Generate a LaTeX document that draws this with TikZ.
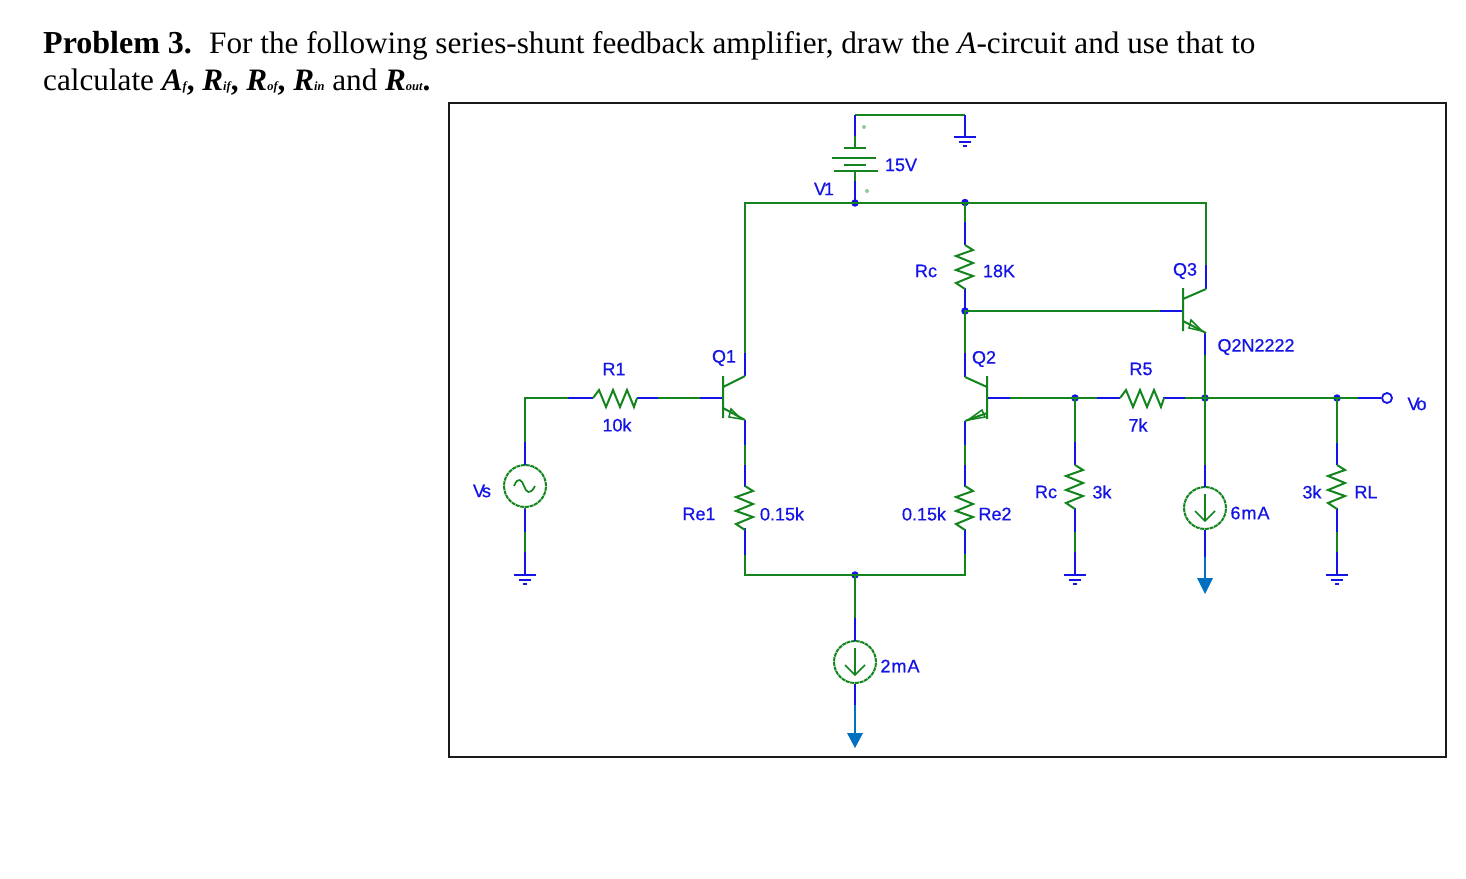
\documentclass[tikz,border=0pt]{standalone}
\usepackage{fontspec}
\setmainfont{Liberation Serif}
\newfontfamily\lblfont[AutoFakeBold=0.6]{Liberation Sans}
\definecolor{wg}{HTML}{14851E}
\definecolor{wb}{HTML}{1414E6}
\definecolor{arr}{HTML}{0070C0}
\definecolor{frame}{HTML}{1A1A1A}
\tikzset{
  wire/.style={draw=wg,line width=2.3pt},
  pin/.style={draw=wb,line width=2.3pt},
  outpin/.style={draw=arr,line width=2.3pt},
  part/.style={draw=wg,line width=2pt,line join=miter},
  srcring/.style={circle,draw=wg,line width=2pt,dash pattern=on 4pt off 0.7pt,minimum size=42pt,inner sep=0pt},
  lbl/.style={text=wb,font=\lblfont\bfseries\fontsize{18}{20}\selectfont,inner sep=0pt,anchor=center},
  junction/.style={circle,fill=wb,inner sep=0pt,minimum size=7.5pt},
  headtxt/.style={anchor=base west,inner sep=0pt,text=black},
  outterm/.style={circle,draw=wb,fill=white,line width=1.8pt,inner sep=0pt,minimum size=10pt},
  sign/.style={circle,fill=wg!45,inner sep=0pt,minimum size=4pt},
  flow/.style={fill=arr,draw=none}
}
% vertical resistor at x from y
\newcommand{\vres}[2]{\draw[part] (#1,#2) -- ++(8,5) -- ++(-17,6) -- ++(17,7) -- ++(-17,7) -- ++(17,6) -- ++(-17,7) -- ++(9,6);}
% horizontal resistor
\newcommand{\hres}[2]{\draw[part] (#1,#2) -- ++(6,-8) -- ++(7,17) -- ++(7,-17) -- ++(7,17) -- ++(7,-17) -- ++(7,17) -- ++(3,-9);}
% ground
\newcommand{\gnd}[2]{\draw[pin,line width=2pt] (#1-11,#2) -- (#1+11,#2) (#1-6,#2+4.5) -- (#1+6,#2+4.5) (#1-2,#2+8.5) -- (#1+2,#2+8.5);}
\newcommand{\hd}{\fontsize{31.2}{36}\selectfont}
\newcommand{\smsub}[1]{{\fontsize{12.5}{14}\selectfont\itshape #1}}
\begin{document}
\begin{tikzpicture}[x=1pt,y=-1pt]
\useasboundingbox (0,0) rectangle (1466,878);
\fill[white] (0,0) rectangle (1466,878);
% heading
\node[headtxt] (h1) at (43,53) {\fontsize{32}{36}\selectfont\textbf{Problem 3.}};
\node[headtxt] (h2) at (209,53) {\hd For the following series-shunt feedback amplifier, draw the \textit{A}-circuit and use that to};
\node[headtxt] (h3) at (43,90) {\hd calculate \textbf{\textit{A}\smsub{f}, \textit{R}\smsub{if}, \textit{R}\smsub{of}, \textit{R}\smsub{in}} and \textbf{\textit{R}\smsub{out}.}};
% frame
\node[draw=frame,line width=2pt,minimum width=996.5pt,minimum height=653.5pt,inner sep=0pt,anchor=north west] (fr) at (448.2,102.2) {};

% named points
\coordinate (battop) at (855,148);
\coordinate (batbot) at (855,171);
\coordinate (battopc) at (855,115);
\coordinate (gndtopc) at (965,115);
\coordinate (gndtop) at (965,137);
\node[junction] (v1j) at (855,203) {};
\node[junction] (rcj) at (965,202.5) {};
\coordinate (railL) at (745,203);
\coordinate (railR) at (1206,203);
\coordinate (rct) at (965,245);
\coordinate (rcb) at (965,290);
\node[junction] (q2cj) at (965,311) {};
\coordinate (q3b) at (1183,311);
\coordinate (q3c) at (1206,289);
\coordinate (q3e) at (1206,333);
\coordinate (q1c) at (745,376);
\coordinate (q1e) at (745,420);
\coordinate (q1b) at (723,398);
\coordinate (r1l) at (593,398);
\coordinate (r1r) at (637,398);
\coordinate (vsc) at (525,398);
\node[srcring] (vs) at (525,486) {};
\coordinate (vsg) at (525,575);
\coordinate (re1t) at (745,485);
\coordinate (re1b) at (745,530);
\coordinate (botL) at (745,575);
\coordinate (botR) at (965,575);
\node[junction] (botj) at (855,575) {};
\node[srcring] (i2) at (855,662) {};
\coordinate (i2tip) at (855,733);
\coordinate (q2c) at (965,377);
\coordinate (q2e) at (965,421);
\coordinate (q2b) at (987,398);
\coordinate (re2t) at (965,485);
\coordinate (re2b) at (965,530);
\node[junction] (rc3j) at (1075,398) {};
\coordinate (r5l) at (1120,398);
\coordinate (r5r) at (1164,398);
\node[junction] (outj) at (1205,398) {};
\coordinate (rc3t) at (1075,465);
\coordinate (rc3b) at (1075,510);
\coordinate (rc3g) at (1075,575);
\node[srcring] (i6) at (1205,508) {};
\coordinate (i6tip) at (1205,578);
\node[junction] (rlj) at (1337,398) {};
\coordinate (rlt) at (1337,465);
\coordinate (rlb) at (1337,510);
\coordinate (rlg) at (1337,575);

% green wires
\draw[wire] (battopc) -- (battop);
\draw[wire,line join=miter] (battopc) -- (gndtopc);
\draw[wire] (batbot) -- (v1j.center);
\draw[wire,line cap=rect] (railL) -- (railR);
\draw[wire] (rcj.center) -- (rct);
\draw[wire] (rcb) -- (q2cj.center) -- (q2c);
\draw[wire] (q2cj.center) -- (q3b);
\draw[wire] (railR) -- (q3c);
\draw[wire] (1205,333) -- (outj.center) -- (i6.north);
\draw[wire] (railL) -- (q1c);
\draw[wire] (q1e) -- (re1t);
\draw[wire,line join=miter] (vs.north) -- (vsc) -- (r1l);
\draw[wire] (r1r) -- (q1b);
\draw[wire] (vs.south) -- (vsg);
\draw[wire,line cap=rect,line join=miter] (re1b) -- (botL) -- (botR) -- (re2b);
\draw[wire] (botj.center) -- (i2.north);
\draw[wire] (q2e) -- (re2t);
\draw[wire] (q2b) -- (r5l);
\draw[wire] (r5r) -- (outj.center) -- (rlj.center) -- (1381,398);
\draw[wire] (rc3j.center) -- (rc3t);
\draw[wire] (rc3b) -- (rc3g);
\draw[wire] (rlj.center) -- (rlt);
\draw[wire] (rlb) -- (rlg);

% blue pin sections
\draw[pin] (855,115) -- (855,136) (855,181) -- (855,202);
\draw[pin] (965,115) -- (965,137) (965,222) -- (965,245) (965,288) -- (965,310);
\draw[pin] (1160,311) -- (1183,311) (1206,265) -- (1206,289) (1205,333) -- (1205,355);
\draw[pin] (965,353) -- (965,377) (965,421) -- (965,445) (965,465) -- (965,487) (965,529) -- (965,554);
\draw[pin] (745,353) -- (745,376) (745,420) -- (745,445) (745,465) -- (745,487) (745,528) -- (745,555);
\draw[pin] (568,398) -- (593,398) (637,398) -- (658,398) (700,398) -- (723,398);
\draw[pin] (525,442) -- (525,465) (525,509) -- (525,532) (525,552) -- (525,575);
\draw[pin] (855,618) -- (855,641);
\draw[pin] (855,684) -- (855,705);
\draw[pin] (988,398) -- (1010,398) (1097,398) -- (1120,398) (1163,398) -- (1185,398);
\draw[pin] (1075,442) -- (1075,465) (1075,508) -- (1075,532) (1075,552) -- (1075,575);
\draw[pin] (1205,465) -- (1205,487);
\draw[pin] (1205,530) -- (1205,557);
\draw[pin] (1337,443) -- (1337,465) (1337,508) -- (1337,532) (1337,552) -- (1337,575);
\draw[pin] (1358,398) -- (1381,398);
\draw[outpin] (855,705) -- (i2tip);
\draw[outpin] (1205,557) -- (i6tip);
\fill[flow] (847,733) -- (863,733) -- (855,748) -- cycle;
\fill[flow] (1197,578) -- (1213,578) -- (1205,594) -- cycle;

% battery
\draw[part] (844,148) -- (866,148) (832,158) -- (876,158) (844,164.5) -- (866,164.5) (834,171) -- (878,171);
\node[sign] (bm) at (864,127) {};
\node[sign] (bp) at (867,191) {};
\gnd{965}{137}
\gnd{525}{575}
\gnd{1075}{575}
\gnd{1337}{575}

% resistors
\vres{965}{245}
\vres{745}{486}
\vres{965}{486}
\vres{1075}{465}
\vres{1337}{465}
\hres{593}{398}
\hres{1120}{398}

% transistors
\draw[part] (723,376) -- (723,418) (723,387) -- (745,376) (723,408) -- (745,420);
\draw[part,line width=1.5pt] (741,419) -- (731,409) -- (729,417) -- cycle;
\draw[part] (1183,288) -- (1183,331) (1183,299) -- (1206,289) (1183,321) -- (1206,333);
\draw[part,line width=1.5pt] (1202,331) -- (1191,320) -- (1189,328) -- cycle;
\draw[part] (987,376) -- (987,419) (987,387) -- (965,377) (987,413) -- (965,421);
\draw[part,line width=1.5pt] (968,420) -- (982,410) -- (985,417) -- cycle;

% source symbols
\draw[part,line width=1.7pt] (514,486) .. controls (518,476) and (522,480) .. (524,486) .. controls (526,492) and (530,496) .. (535,486);
\draw[part,line width=1.7pt] (855,648) -- (855,675) (845,665) -- (855,675) -- (865,665);
\draw[part,line width=1.7pt] (1205,494) -- (1205,521) (1195,511) -- (1205,521) -- (1215,511);
\node[outterm] (vo) at (1387,398) {};

% labels
\node[lbl] (l15) at (901,165) {15V};
\node[lbl] (lv1) at (824,189) {V\kern-2pt 1};
\node[lbl] (lrc) at (926,271) {Rc};
\node[lbl] (l18) at (999,271) {18K};
\node[lbl] (lq3) at (1185,271) {Q3};
\node[lbl] (lq2n) at (1256,347) {Q2N2222};
\node[lbl] (lq1) at (724,358) {Q1};
\node[lbl] (lq2) at (984,359) {Q2};
\node[lbl] (lr1) at (614,369) {R1};
\node[lbl] (l10) at (617,425) {10k};
\node[lbl] (lr5) at (1141,369) {R5};
\node[lbl] (l7) at (1138,425) {7k};
\node[lbl] (lvo) at (1417,404) {V\kern-3pt o};
\node[lbl] (lvs) at (482,491) {V\kern-3pt s};
\node[lbl] (lre1) at (699,514) {Re1};
\node[lbl] (l015a) at (782,514) {0.15k};
\node[lbl] (l015b) at (924,514) {0.15k};
\node[lbl] (lre2) at (995,514) {Re2};
\node[lbl] (lrc3) at (1046,492) {Rc};
\node[lbl] (l3a) at (1102,492) {3k};
\node[lbl] (l6) at (1250,513) {6\kern1pt m\kern1pt A};
\node[lbl] (l3b) at (1312,492) {3k};
\node[lbl] (lrl) at (1366,492) {RL};
\node[lbl] (l2) at (900,666) {2\kern1pt m\kern1pt A};
\end{tikzpicture}
\end{document}
